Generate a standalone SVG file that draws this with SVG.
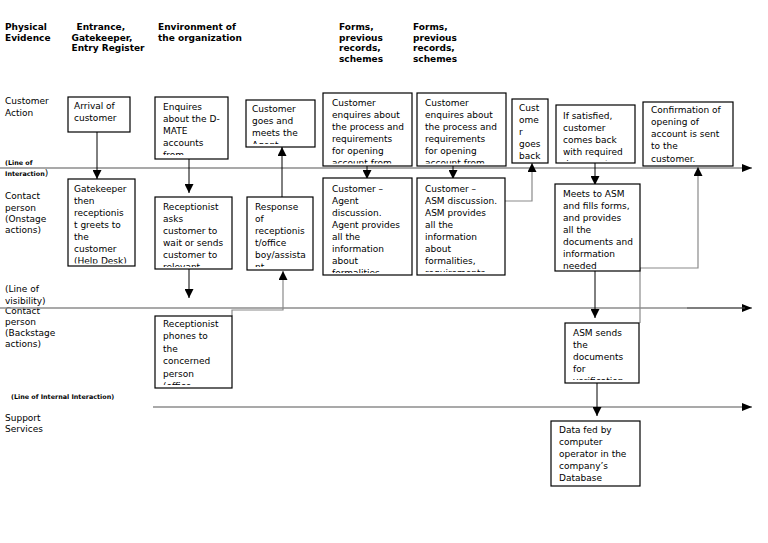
<svg xmlns="http://www.w3.org/2000/svg" width="768" height="543" viewBox="0 0 768 543">
<style>
text{font-family:"DejaVu Sans","Verdana",sans-serif;font-size:9px;fill:#000}
.h{font-weight:bold}
.s{font-weight:bold;font-size:6.4px}
.box{fill:#fff;stroke:#000;stroke-width:1.2}
.c{fill:none;stroke:#000;stroke-width:1}
.g{fill:none;stroke:#8a8a8a;stroke-width:1.2}
.lane{fill:none;stroke:#8c8c8c;stroke-width:1.4}
</style>
<defs>
<marker id="ah" markerUnits="userSpaceOnUse" markerWidth="10" markerHeight="9" refX="9" refY="4.5" orient="auto"><path d="M0,0 L9,4.5 L0,9 z" fill="#000"/></marker>
<marker id="al" markerUnits="userSpaceOnUse" markerWidth="11" markerHeight="8" refX="10" refY="4" orient="auto"><path d="M0,0 L10,4 L0,8 z" fill="#000"/></marker>
<clipPath id="k2"><rect x="155" y="97" width="73" height="58"/></clipPath>
<clipPath id="k3"><rect x="246" y="100" width="69" height="44"/></clipPath>
<clipPath id="k4"><rect x="68" y="179" width="67" height="84.5"/></clipPath>
<clipPath id="k5"><rect x="155" y="197" width="77" height="70"/></clipPath>
<clipPath id="k6"><rect x="247" y="197" width="66" height="70"/></clipPath>
<clipPath id="k7"><rect x="323" y="93" width="89" height="70.5"/></clipPath>
<clipPath id="k8"><rect x="417" y="93" width="89" height="70.5"/></clipPath>
<clipPath id="k10"><rect x="323" y="178" width="89" height="95"/></clipPath>
<clipPath id="k11"><rect x="417" y="178" width="88" height="94"/></clipPath>
<clipPath id="k12"><rect x="556" y="105" width="79" height="56"/></clipPath>
<clipPath id="k14"><rect x="555" y="184" width="85" height="85"/></clipPath>
<clipPath id="k15"><rect x="155" y="316" width="77" height="69"/></clipPath>
<clipPath id="k16"><rect x="565" y="323" width="74" height="57"/></clipPath>
</defs>
<rect width="768" height="543" fill="#fff"/>

<g id="headers">
<text class="h"><tspan x="5" y="30">Physical</tspan><tspan x="5" y="40.5">Evidence</tspan></text>
<text class="h"><tspan x="76.5" y="30">Entrance,</tspan><tspan x="71.5" y="40.5">Gatekeeper,</tspan><tspan x="71.5" y="51">Entry Register</tspan></text>
<text class="h"><tspan x="158" y="30">Environment of</tspan><tspan x="158" y="40.5">the organization</tspan></text>
<text class="h"><tspan x="339" y="30">Forms,</tspan><tspan x="339" y="40.5">previous</tspan><tspan x="339" y="51">records,</tspan><tspan x="339" y="61.5">schemes</tspan></text>
<text class="h"><tspan x="413" y="30">Forms,</tspan><tspan x="413" y="40.5">previous</tspan><tspan x="413" y="51">records,</tspan><tspan x="413" y="61.5">schemes</tspan></text>
</g>

<g id="lane-labels">
<text><tspan x="5" y="104">Customer</tspan><tspan x="5" y="115.5">Action</tspan></text>
<text class="s"><tspan x="5" y="165">(Line of</tspan><tspan x="5" y="176">Interaction</tspan><tspan style="font-weight:normal;font-size:9px">)</tspan></text>
<text><tspan x="5" y="199">Contact</tspan><tspan x="5" y="210.5">person</tspan><tspan x="5" y="222">(Onstage</tspan><tspan x="5" y="232.5">actions)</tspan></text>
<text><tspan x="5" y="292">(Line of</tspan><tspan x="5" y="303.5">visibility)</tspan></text>
<text><tspan x="5" y="314">Contact</tspan><tspan x="5" y="325">person</tspan><tspan x="5" y="336">(Backstage</tspan><tspan x="5" y="346.5">actions)</tspan></text>
<text class="s" x="11" y="399">(Line of Internal Interaction)</text>
<text><tspan x="5" y="421">Support</tspan><tspan x="5" y="431.5">Services</tspan></text>
</g>

<g id="lanes">
<line class="lane" x1="0" y1="168" x2="752" y2="168" marker-end="url(#al)"/>
<line class="lane" x1="0" y1="308" x2="752" y2="308" marker-end="url(#al)"/>
<line x1="687" y1="308" x2="745" y2="308" stroke="#555" stroke-width="1.2"/>
<line class="lane" x1="153" y1="407" x2="752" y2="407" marker-end="url(#al)"/>
</g>

<g id="connectors">
<line class="c" x1="97" y1="132" x2="97" y2="179" marker-end="url(#ah)"/>
<line class="c" x1="189" y1="159" x2="189" y2="193" marker-end="url(#ah)"/>
<line class="c" x1="189" y1="269" x2="189" y2="298" marker-end="url(#ah)"/>
<line class="c" x1="282" y1="197" x2="282" y2="147" marker-end="url(#ah)"/>
<polyline class="g" points="232,316 232,310 283,310 283,271" marker-end="url(#ah)"/>
<line class="c" x1="367" y1="163" x2="367" y2="179" marker-end="url(#ah)"/>
<line class="c" x1="453" y1="163" x2="453" y2="179" marker-end="url(#ah)"/>
<polyline class="g" points="505,201 532,201 532,163" marker-end="url(#ah)"/>
<line class="c" x1="595" y1="163" x2="595" y2="185" marker-end="url(#ah)"/>
<line class="c" x1="595" y1="262" x2="595" y2="318" marker-end="url(#ah)"/>
<polyline class="g" points="640,323 640,268 698,268 698,167" marker-end="url(#ah)"/>
<line class="c" x1="597" y1="383" x2="597" y2="416" marker-end="url(#ah)"/>
</g>

<g id="n1"><rect class="box" x="68" y="97" width="62" height="35"/>
<text><tspan x="74" y="109">Arrival of</tspan><tspan x="74" y="121">customer</tspan></text></g>

<g id="n2"><rect class="box" x="155" y="97" width="73" height="62"/>
<text clip-path="url(#k2)"><tspan x="163" y="109.5">Enquires</tspan><tspan x="163" y="121.5">about the D-</tspan><tspan x="163" y="133.5">MATE</tspan><tspan x="163" y="145.5">accounts</tspan><tspan x="163" y="157.5">from</tspan></text></g>

<g id="n3"><rect class="box" x="246" y="100" width="69" height="47"/>
<text clip-path="url(#k3)"><tspan x="252" y="111.5">Customer</tspan><tspan x="252" y="123.5">goes and</tspan><tspan x="252" y="135.5">meets the</tspan><tspan x="252" y="147.5">Agent</tspan></text></g>

<g id="n4"><rect class="box" x="68" y="179" width="67" height="87"/>
<text clip-path="url(#k4)"><tspan x="74" y="191.5">Gatekeeper</tspan><tspan x="74" y="203.5">then</tspan><tspan x="74" y="215.5">receptionis</tspan><tspan x="74" y="227.5">t greets to</tspan><tspan x="74" y="239.5">the</tspan><tspan x="74" y="251.5">customer</tspan><tspan x="74" y="263.5">(Help Desk)</tspan></text></g>

<g id="n5"><rect class="box" x="155" y="197" width="77" height="72"/>
<text clip-path="url(#k5)"><tspan x="163" y="209.5">Receptionist</tspan><tspan x="163" y="221.5">asks</tspan><tspan x="163" y="233.5">customer to</tspan><tspan x="163" y="245.5">wait or sends</tspan><tspan x="163" y="257.5">customer to</tspan><tspan x="163" y="269.5">relevant</tspan></text></g>

<g id="n6"><rect class="box" x="247" y="197" width="66" height="73"/>
<text clip-path="url(#k6)"><tspan x="255" y="209.5">Response</tspan><tspan x="255" y="221.5">of</tspan><tspan x="255" y="233.5">receptionis</tspan><tspan x="255" y="245.5">t/office</tspan><tspan x="255" y="257.5">boy/assista</tspan><tspan x="255" y="269.5">nt</tspan></text></g>

<g id="n7"><rect class="box" x="323" y="93" width="89" height="73"/>
<text clip-path="url(#k7)"><tspan x="332" y="105.5">Customer</tspan><tspan x="332" y="117.5">enquires about</tspan><tspan x="332" y="129.5">the process and</tspan><tspan x="332" y="141.5">requirements</tspan><tspan x="332" y="153.5">for opening</tspan><tspan x="332" y="165.5">account from</tspan></text></g>

<g id="n8"><rect class="box" x="417" y="93" width="89" height="73"/>
<text clip-path="url(#k8)"><tspan x="425" y="105.5">Customer</tspan><tspan x="425" y="117.5">enquires about</tspan><tspan x="425" y="129.5">the process and</tspan><tspan x="425" y="141.5">requirements</tspan><tspan x="425" y="153.5">for opening</tspan><tspan x="425" y="165.5">account from</tspan></text></g>

<g id="n9"><rect class="box" x="512" y="99" width="36" height="64"/>
<text><tspan x="519" y="110.5">Cust</tspan><tspan x="519" y="122.5">ome</tspan><tspan x="519" y="134.5">r</tspan><tspan x="519" y="146.5">goes</tspan><tspan x="519" y="158.5">back</tspan></text></g>

<g id="n10"><rect class="box" x="323" y="178" width="89" height="97"/>
<text clip-path="url(#k10)"><tspan x="332" y="191.5">Customer –</tspan><tspan x="332" y="203.5">Agent</tspan><tspan x="332" y="215.5">discussion.</tspan><tspan x="332" y="227.5">Agent provides</tspan><tspan x="332" y="239.5">all the</tspan><tspan x="332" y="251.5">information</tspan><tspan x="332" y="263.5">about</tspan><tspan x="332" y="275.5">formalities</tspan></text></g>

<g id="n11"><rect class="box" x="417" y="178" width="88" height="97"/>
<text clip-path="url(#k11)"><tspan x="425" y="191.5">Customer –</tspan><tspan x="425" y="203.5">ASM discussion.</tspan><tspan x="425" y="215.5">ASM provides</tspan><tspan x="425" y="227.5">all the</tspan><tspan x="425" y="239.5">information</tspan><tspan x="425" y="251.5">about</tspan><tspan x="425" y="263.5">formalities,</tspan><tspan x="425" y="275.5">requirements</tspan></text></g>

<g id="n12"><rect class="box" x="556" y="105" width="79" height="58"/>
<text clip-path="url(#k12)"><tspan x="563" y="118.5">If satisfied,</tspan><tspan x="563" y="130.5">customer</tspan><tspan x="563" y="142.5">comes back</tspan><tspan x="563" y="154.5">with required</tspan><tspan x="563" y="166.5">documents</tspan></text></g>

<g id="n13"><rect class="box" x="643" y="102" width="90" height="64"/>
<text><tspan x="651" y="112.5">Confirmation of</tspan><tspan x="651" y="124.8">opening of</tspan><tspan x="651" y="137.1">account is sent</tspan><tspan x="651" y="149.4">to the</tspan><tspan x="651" y="161.7">customer.</tspan></text></g>

<g id="n14"><rect class="box" x="555" y="184" width="85" height="87"/>
<text clip-path="url(#k14)"><tspan x="563" y="196.5">Meets to ASM</tspan><tspan x="563" y="208.5">and fills forms,</tspan><tspan x="563" y="220.5">and provides</tspan><tspan x="563" y="232.5">all the</tspan><tspan x="563" y="244.5">documents and</tspan><tspan x="563" y="256.5">information</tspan><tspan x="563" y="268.5">needed</tspan></text></g>

<g id="n15"><rect class="box" x="155" y="316" width="77" height="72"/>
<text clip-path="url(#k15)"><tspan x="163" y="326.5">Receptionist</tspan><tspan x="163" y="339">phones to</tspan><tspan x="163" y="351.5">the</tspan><tspan x="163" y="364">concerned</tspan><tspan x="163" y="376.5">person</tspan><tspan x="163" y="389">(office</tspan></text></g>

<g id="n16"><rect class="box" x="565" y="323" width="74" height="60"/>
<text clip-path="url(#k16)"><tspan x="573" y="335.5">ASM sends</tspan><tspan x="573" y="347.5">the</tspan><tspan x="573" y="359.5">documents</tspan><tspan x="573" y="371.5">for</tspan><tspan x="573" y="383.5">verification</tspan></text></g>

<g id="n17"><rect class="box" x="551" y="421" width="89" height="65"/>
<text><tspan x="559" y="432.5">Data fed by</tspan><tspan x="559" y="444.5">computer</tspan><tspan x="559" y="456.5">operator in the</tspan><tspan x="559" y="468.5">company’s</tspan><tspan x="559" y="480.5">Database</tspan></text></g>
</svg>
